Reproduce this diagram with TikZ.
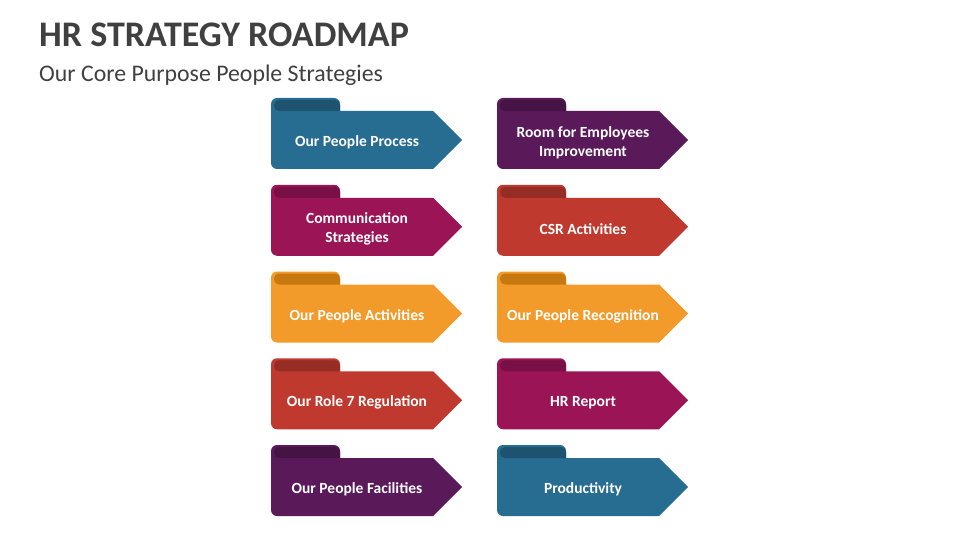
\documentclass[tikz,border=0pt]{standalone}
\usepackage{fontspec}
\setmainfont{Carlito}
\usetikzlibrary{positioning}

\definecolor{titlegray}{HTML}{404040}
\definecolor{hrblue}{HTML}{276C91}
\definecolor{hrbluedark}{HTML}{1E5370}
\definecolor{hrpurple}{HTML}{5A1A5A}
\definecolor{hrpurpledark}{HTML}{451445}
\definecolor{hrmagenta}{HTML}{9A1456}
\definecolor{hrmagentadark}{HTML}{781046}
\definecolor{hrred}{HTML}{C0392F}
\definecolor{hrreddark}{HTML}{962D24}
\definecolor{hrorange}{HTML}{F29B2A}
\definecolor{hrorangedark}{HTML}{C7780F}

\tikzset{
	boxtext/.style={text=white, align=center, inner sep=0pt,
		font=\bfseries\fontsize{15.5}{19}\selectfont},
	headline/.style={anchor=base west, inner sep=0pt, text=titlegray}
}

\begin{document}
\begin{tikzpicture}[x=1pt, y=-1pt]
		\useasboundingbox (0,0) rectangle (960,540);
		\node [headline, font=\bfseries\fontsize{36}{40}\selectfont] (title) at (39,47) {HR STRATEGY ROADMAP};
		\node [headline, font=\fontsize{23.8}{26}\selectfont] (subtitle) at (39,81.5) {Our Core Purpose People Strategies};
		\foreach \col/\row/\fillc/\stripc/\name/\txt in {
				0/0/hrblue/hrbluedark/process/{Our People Process},
				0/1/hrmagenta/hrmagentadark/communication/{Communication\\Strategies},
				0/2/hrorange/hrorangedark/activities/{Our People Activities},
				0/3/hrred/hrreddark/regulation/{Our Role 7 Regulation},
				0/4/hrpurple/hrpurpledark/facilities/{Our People Facilities},
				1/0/hrpurple/hrpurpledark/improvement/{Room for Employees\\Improvement},
				1/1/hrred/hrreddark/csr/{CSR Activities},
				1/2/hrorange/hrorangedark/recognition/{Our People Recognition},
				1/3/hrmagenta/hrmagentadark/report/{HR Report},
				1/4/hrblue/hrbluedark/productivity/{Productivity}} {
			\pgfmathsetmacro\xo{271+226*\col}
			\pgfmathsetmacro\yo{98+86.75*\row}
			\fill [\fillc] (\xo+162,\yo+71) [rounded corners=6pt] -- (\xo,\yo+71) -- (\xo,\yo) -- (\xo+69,\yo)
				[sharp corners] -- (\xo+69,\yo+13) -- (\xo+162,\yo+13) -- (\xo+191,\yo+42) -- cycle;
			\fill [\stripc] (\xo+69,\yo+13) [rounded corners=5pt] -- (\xo+3,\yo+13) -- (\xo+3,\yo+2) -- (\xo+69,\yo+2)
				[sharp corners] -- cycle;
			\node [boxtext] (\name) at (\xo+86,\yo+44.5) {\txt};
		}
	\end{tikzpicture}
\end{document}
